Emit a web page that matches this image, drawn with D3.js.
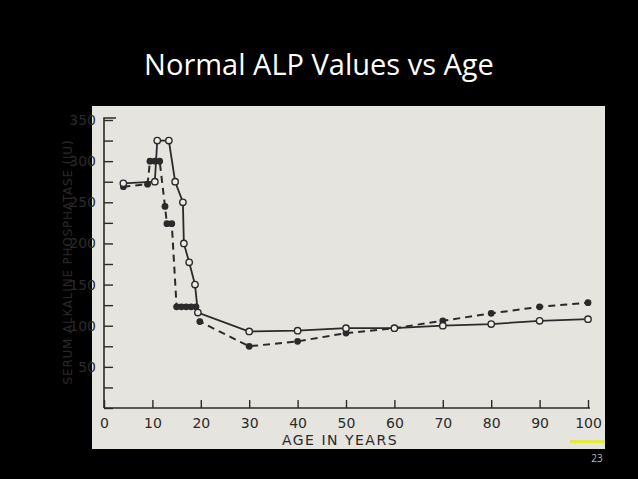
<!DOCTYPE html>
<html><head><meta charset="utf-8">
<script src="https://cdn.jsdelivr.net/npm/d3@7"></script>
<style>body{margin:0;background:#000}</style>
</head><body>
<svg id="chart" width="638" height="479"></svg>
<script>
// Solid line, open circles
const openAge = [4, 10.5, 11, 13.4, 14.7, 16.3, 16.5, 17.6, 18.8, 19.4, 30, 40, 50, 60, 70, 80, 90, 100];
const openAlp = [273, 275, 325, 325, 275, 250, 200, 177, 150, 116, 93, 94, 97, 97, 100, 102, 106, 108];
// Dashed line, filled circles
const filledAge = [4, 9, 9.5, 10.5, 11.5, 12.6, 13, 14, 15, 16, 17, 18, 19, 19.8, 30, 40, 50, 60, 70, 80, 90, 100];
const filledAlp = [269, 272, 300, 300, 300, 245, 224, 224, 123, 123, 123, 123, 123, 105, 75, 81, 91, 97, 106, 115, 123, 128];
const yTicks = [0, 50, 100, 150, 200, 250, 300, 350];
const xTicks = [0, 10, 20, 30, 40, 50, 60, 70, 80, 90, 100];

const svg = d3.select("#chart");
svg.append("rect").attr("width", 638).attr("height", 479).attr("fill", "#000");
svg.append("text").attr("x", 319).attr("y", 75).attr("text-anchor", "middle")
  .attr("fill", "#fff").attr("font-family", "Open Sans, sans-serif").attr("font-size", 29)
  .text("Normal ALP Values vs Age");
svg.append("rect").attr("x", 92).attr("y", 106).attr("width", 513).attr("height", 343).attr("fill", "#e6e4de");
svg.append("rect").attr("x", 570).attr("y", 440).attr("width", 35).attr("height", 3).attr("fill", "#e6ea40");
svg.append("text").attr("x", 597).attr("y", 462).attr("text-anchor", "middle")
  .attr("fill", "#bbb").attr("font-family", "Open Sans, sans-serif").attr("font-size", 10).text("23");

const x = d3.scaleLinear().domain([0, 100]).range([104, 588]);
const y = d3.scaleLinear().domain([0, 350]).range([408, 120]);
const ink = "#2a2a2a";
const font = "DejaVu Sans, sans-serif";

const xa = svg.append("g").attr("transform", "translate(0,408)")
  .call(d3.axisBottom(x).tickValues(xTicks).tickSize(-8).tickFormat(d3.format("d")));
const ya = svg.append("g").attr("transform", "translate(104,0)")
  .call(d3.axisLeft(y).tickValues(d3.range(0, 351, 25)).tickSize(-9)
    .tickFormat(d => yTicks.includes(d) && d > 0 ? d : ""));
[xa, ya].forEach(a => {
  a.select(".domain").attr("stroke", ink).attr("stroke-width", 1.6);
  a.selectAll("line").attr("stroke", ink).attr("stroke-width", 1.4);
  a.selectAll("text").attr("fill", ink).attr("font-family", font).attr("font-size", 14);
});
// labels outside the axes, ticks inside
xa.selectAll("text").attr("y", 10);
ya.selectAll("text").attr("x", -8);
xa.select(".domain").attr("d", "M104,0H590");
ya.select(".domain").attr("d", "M0,408V118H12");

svg.append("text").attr("x", 340).attr("y", 445).attr("text-anchor", "middle")
  .attr("fill", ink).attr("font-family", font).attr("font-size", 14).attr("letter-spacing", 1.5)
  .text("AGE  IN  YEARS");
svg.append("text").attr("transform", "translate(72,262) rotate(-90)").attr("text-anchor", "middle")
  .attr("fill", ink).attr("font-family", font).attr("font-size", 12).attr("letter-spacing", 0.8)
  .text("SERUM ALKALINE PHOSPHATASE (IU)");

const line = d3.line().x(d => x(d[0])).y(d => y(d[1]));
const filled = filledAge.map((a, i) => [a, filledAlp[i]]);
const open = openAge.map((a, i) => [a, openAlp[i]]);
svg.append("path").datum(filled).attr("d", line).attr("fill", "none")
  .attr("stroke", ink).attr("stroke-width", 2).attr("stroke-dasharray", "7,5");
svg.append("path").datum(open).attr("d", line).attr("fill", "none")
  .attr("stroke", ink).attr("stroke-width", 1.8);
svg.selectAll(".f").data(filled).join("circle").attr("class", "f")
  .attr("cx", d => x(d[0])).attr("cy", d => y(d[1])).attr("r", 3.4).attr("fill", ink);
svg.selectAll(".o").data(open).join("circle").attr("class", "o")
  .attr("cx", d => x(d[0])).attr("cy", d => y(d[1])).attr("r", 3.2)
  .attr("fill", "#eeece6").attr("stroke", ink).attr("stroke-width", 1.4);
</script>
</body></html>
